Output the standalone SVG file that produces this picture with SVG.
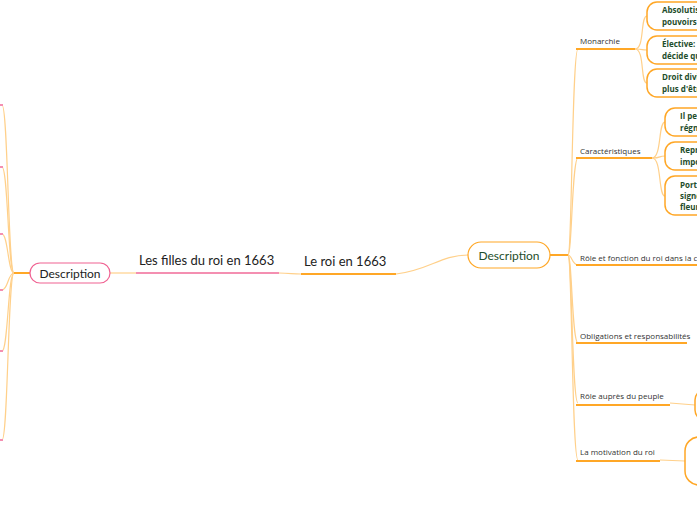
<svg xmlns="http://www.w3.org/2000/svg" width="697" height="520" viewBox="0 0 697 520">
<style>
.c{fill:none;stroke:#ffd08a;stroke-width:1.2}
.u{stroke:#ffa726;stroke-width:2}
.p{stroke:#f48fb1;stroke-width:2}
.lb{font-family:"Open Sans","Noto Sans",sans-serif;font-size:8px;fill:#333}
.leaf{fill:#fff;stroke:#ffa726;stroke-width:1.5}
.lt{font-family:"Open Sans","Noto Sans",sans-serif;font-size:8px;font-weight:bold;fill:#1e4d2b}
.main{font-family:"Lato","Noto Sans",sans-serif;font-size:13px;fill:#222}
.desc{font-family:"Lato","Noto Sans",sans-serif;font-size:12px}
</style>
<rect width="697" height="520" fill="#fff"/>
<g id="connectors">
<path class="c" d="M279,273 C290,273 292,274 301,274"/>
<path class="c" d="M396,274 C430,270 440,255 468,255"/>
<path class="c" d="M110,273 L136,273"/>
<path class="u" d="M550,255 L568,255" fill="none"/>
<path class="c" d="M568,255 C572,255 572,49 578,49"/>
<path class="c" d="M568,255 C572,255 572,158 578,158"/>
<path class="c" d="M568,255 C572,255 572,265 578,265"/>
<path class="c" d="M568,255 C572,255 572,343 578,343"/>
<path class="c" d="M568,255 C572,255 572,403 578,403"/>
<path class="c" d="M568,255 C572,255 572,460 578,460"/>
<path class="c" d="M635,49 C645,49 640,16 647,16"/>
<path class="c" d="M635,49 C645,49 640,50 647,50"/>
<path class="c" d="M635,49 C645,49 640,83 647,83"/>
<path class="c" d="M652,158 C662,158 658,122 665,122"/>
<path class="c" d="M652,158 C662,158 658,156 665,156"/>
<path class="c" d="M652,158 C662,158 658,196 665,196"/>
<path class="c" d="M670,403 L695,405"/>
<path class="c" d="M660,460 L685,461"/>
<path class="u" d="M14,273 L30,273" fill="none"/>
<path class="c" d="M14,273 C8,273 8,105 2,105"/>
<path class="c" d="M14,273 C8,273 8,167 2,167"/>
<path class="c" d="M14,273 C8,273 8,234 2,234"/>
<path class="c" d="M14,273 C8,273 8,290 2,290"/>
<path class="c" d="M14,273 C8,273 8,351 2,351"/>
<path class="c" d="M14,273 C8,273 8,440 2,440"/>
</g>
<g id="left-branches">
<path class="p" d="M0,105h3M0,167h3M0,234h3M0,290h3M0,351h3M0,440h3"/>
</g>
<g id="root">
<text class="main" x="304" y="266">Le roi en 1663</text>
<path class="u" d="M301,274H396"/>
</g>
<g id="filles">
<text class="main" x="139" y="265">Les filles du roi en 1663</text>
<path class="p" d="M136,273H279"/>
</g>
<g id="desc-left">
<rect x="30" y="263" width="80" height="20" rx="10" fill="#fff" stroke="#f06292" stroke-width="1.2"/>
<text class="desc" x="70" y="277.5" text-anchor="middle" fill="#222">Description</text>
</g>
<g id="desc-right">
<rect x="468" y="242" width="82" height="26" rx="13" fill="#fff" stroke="#ffa726" stroke-width="1.2"/>
<text class="desc" x="509" y="259.5" text-anchor="middle" fill="#1e4d2b">Description</text>
</g>
<g id="monarchie"><text class="lb" x="580" y="44">Monarchie</text><path class="u" d="M576,49H635"/></g>
<g id="caract"><text class="lb" x="580" y="154">Caractéristiques</text><path class="u" d="M576,158H652"/></g>
<g id="role"><text class="lb" x="580" y="261">Rôle et fonction du roi dans la colonie</text><path class="u" d="M576,265H697"/></g>
<g id="oblig"><text class="lb" x="580" y="339">Obligations et responsabilités</text><path class="u" d="M576,343H687"/></g>
<g id="peuple"><text class="lb" x="580" y="399">Rôle auprès du peuple</text><path class="u" d="M576,405H670"/></g>
<g id="motiv"><text class="lb" x="580" y="455">La motivation du roi</text><path class="u" d="M576,461H660"/></g>
<g id="m1"><rect class="leaf" x="647" y="2" width="70" height="28" rx="10"/><text class="lt" x="662" y="13">Absolutisme</text><text class="lt" x="662" y="25">pouvoirs</text></g>
<g id="m2"><rect class="leaf" x="647" y="36" width="70" height="28" rx="10"/><text class="lt" x="662" y="47">Élective: le</text><text class="lt" x="662" y="59">décide qui</text></g>
<g id="m3"><rect class="leaf" x="647" y="69" width="70" height="28" rx="10"/><text class="lt" x="662" y="80">Droit divin</text><text class="lt" x="662" y="92">plus d'être</text></g>
<g id="c1"><rect class="leaf" x="665" y="108" width="60" height="28" rx="10"/><text class="lt" x="680" y="119">Il peut</text><text class="lt" x="680" y="131">régner</text></g>
<g id="c2"><rect class="leaf" x="665" y="142" width="60" height="28" rx="10"/><text class="lt" x="680" y="153">Repré</text><text class="lt" x="680" y="165">impor</text></g>
<g id="c3"><rect class="leaf" x="665" y="176" width="60" height="39" rx="10"/><text class="lt" x="680" y="188">Porte</text><text class="lt" x="680" y="199">signe</text><text class="lt" x="680" y="210">fleur</text></g>
<g id="p1"><rect class="leaf" x="695" y="390" width="30" height="30" rx="10"/></g>
<g id="mo1"><rect class="leaf" x="685" y="437" width="40" height="48" rx="14"/></g>
</svg>
